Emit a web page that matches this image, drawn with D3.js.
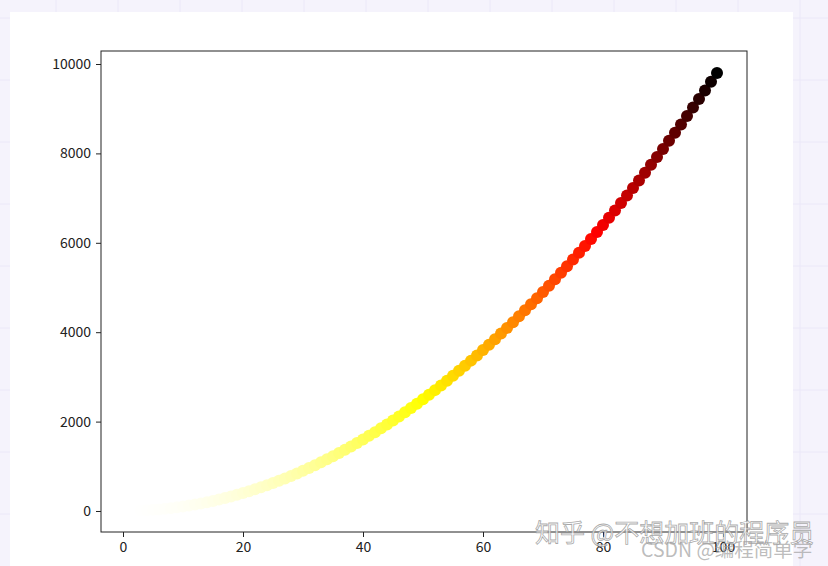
<!DOCTYPE html>
<html><head><meta charset="utf-8">
<script src="https://cdn.jsdelivr.net/npm/d3@7"></script>
<style>
html,body{margin:0;padding:0;background:#f5f3fc;}
svg{display:block;}
</style></head>
<body>
<svg id="c" width="828" height="566"></svg>
<script>
const xValues = d3.range(0, 100);            // x = 0..99
const yValues = xValues.map(v => v * v);     // y = x^2
const xTicks = [0, 20, 40, 60, 80, 100];
const yTicks = [0, 2000, 4000, 6000, 8000, 10000];
const watermark1 = "知乎 @不想加班的程序员";
const watermark2 = "CSDN @编程简单学";

const svg = d3.select("#c");
// page grid
const grid = svg.append("g");
for (let x = 56; x < 828; x += 62) grid.append("line").attr("x1", x).attr("x2", x).attr("y1", 0).attr("y2", 566).attr("stroke", "#ebe8f8").attr("stroke-width", 1);
for (let y = 18; y < 566; y += 62) grid.append("line").attr("x1", 0).attr("x2", 828).attr("y1", y).attr("y2", y).attr("stroke", "#ebe8f8").attr("stroke-width", 1);
// card
svg.append("rect").attr("x", 10).attr("y", 12).attr("width", 783).attr("height", 560).attr("fill", "#ffffff");

const L = 101, R = 747, T = 51, B = 532;
const x = d3.scaleLinear().domain([-3.667, 104]).range([L, R]);
const y = d3.scaleLinear().domain([-470, 10291]).range([B, T]);
// matplotlib 'hot_r' colormap, colour value = y
const yMax = d3.max(yValues);
function hotR(v) {
  const t = 1 - v / yMax;
  const r = Math.min(1, Math.max(0, t / 0.365079));
  const g = Math.min(1, Math.max(0, (t - 0.365079) / (0.746032 - 0.365079)));
  const b = Math.min(1, Math.max(0, (t - 0.746032) / (1 - 0.746032)));
  return d3.rgb(r * 255, g * 255, b * 255).toString();
}

svg.append("g").selectAll("circle").data(xValues).join("circle")
  .attr("cx", (d) => x(d)).attr("cy", (d, i) => y(yValues[i]))
  .attr("r", 6).attr("fill", (d, i) => hotR(yValues[i]));

const font = "'Noto Sans CJK SC', 'DejaVu Sans', sans-serif";
const xAxis = svg.append("g").attr("transform", `translate(0,${B})`)
  .call(d3.axisBottom(x).tickValues(xTicks).tickSize(5).tickPadding(5).tickFormat(d3.format("d")));
const yAxis = svg.append("g").attr("transform", `translate(${L},0)`)
  .call(d3.axisLeft(y).tickValues(yTicks).tickSize(5).tickPadding(5).tickFormat(d3.format("d")));
[xAxis, yAxis].forEach(a => {
  a.select(".domain").remove();
  a.selectAll("line").attr("stroke", "#222").attr("stroke-width", 1);
  a.selectAll("text").attr("font-family", font).attr("font-size", 14).attr("fill", "#222");
});
svg.append("rect").attr("x", L).attr("y", T).attr("width", R - L).attr("height", B - T)
  .attr("fill", "none").attr("stroke", "#222").attr("stroke-width", 1);

svg.append("text").attr("x", 535).attr("y", 542).text(watermark1)
  .attr("font-family", font).attr("font-size", 25).attr("fill", "rgba(255,255,255,0.75)")
  .attr("stroke", "rgba(140,140,140,0.75)").attr("stroke-width", 0.8);
svg.append("text").attr("x", 641).attr("y", 557).text(watermark2)
  .attr("font-family", font).attr("font-size", 19.5).attr("fill", "rgba(160,160,160,0.7)");
</script>
</body></html>
